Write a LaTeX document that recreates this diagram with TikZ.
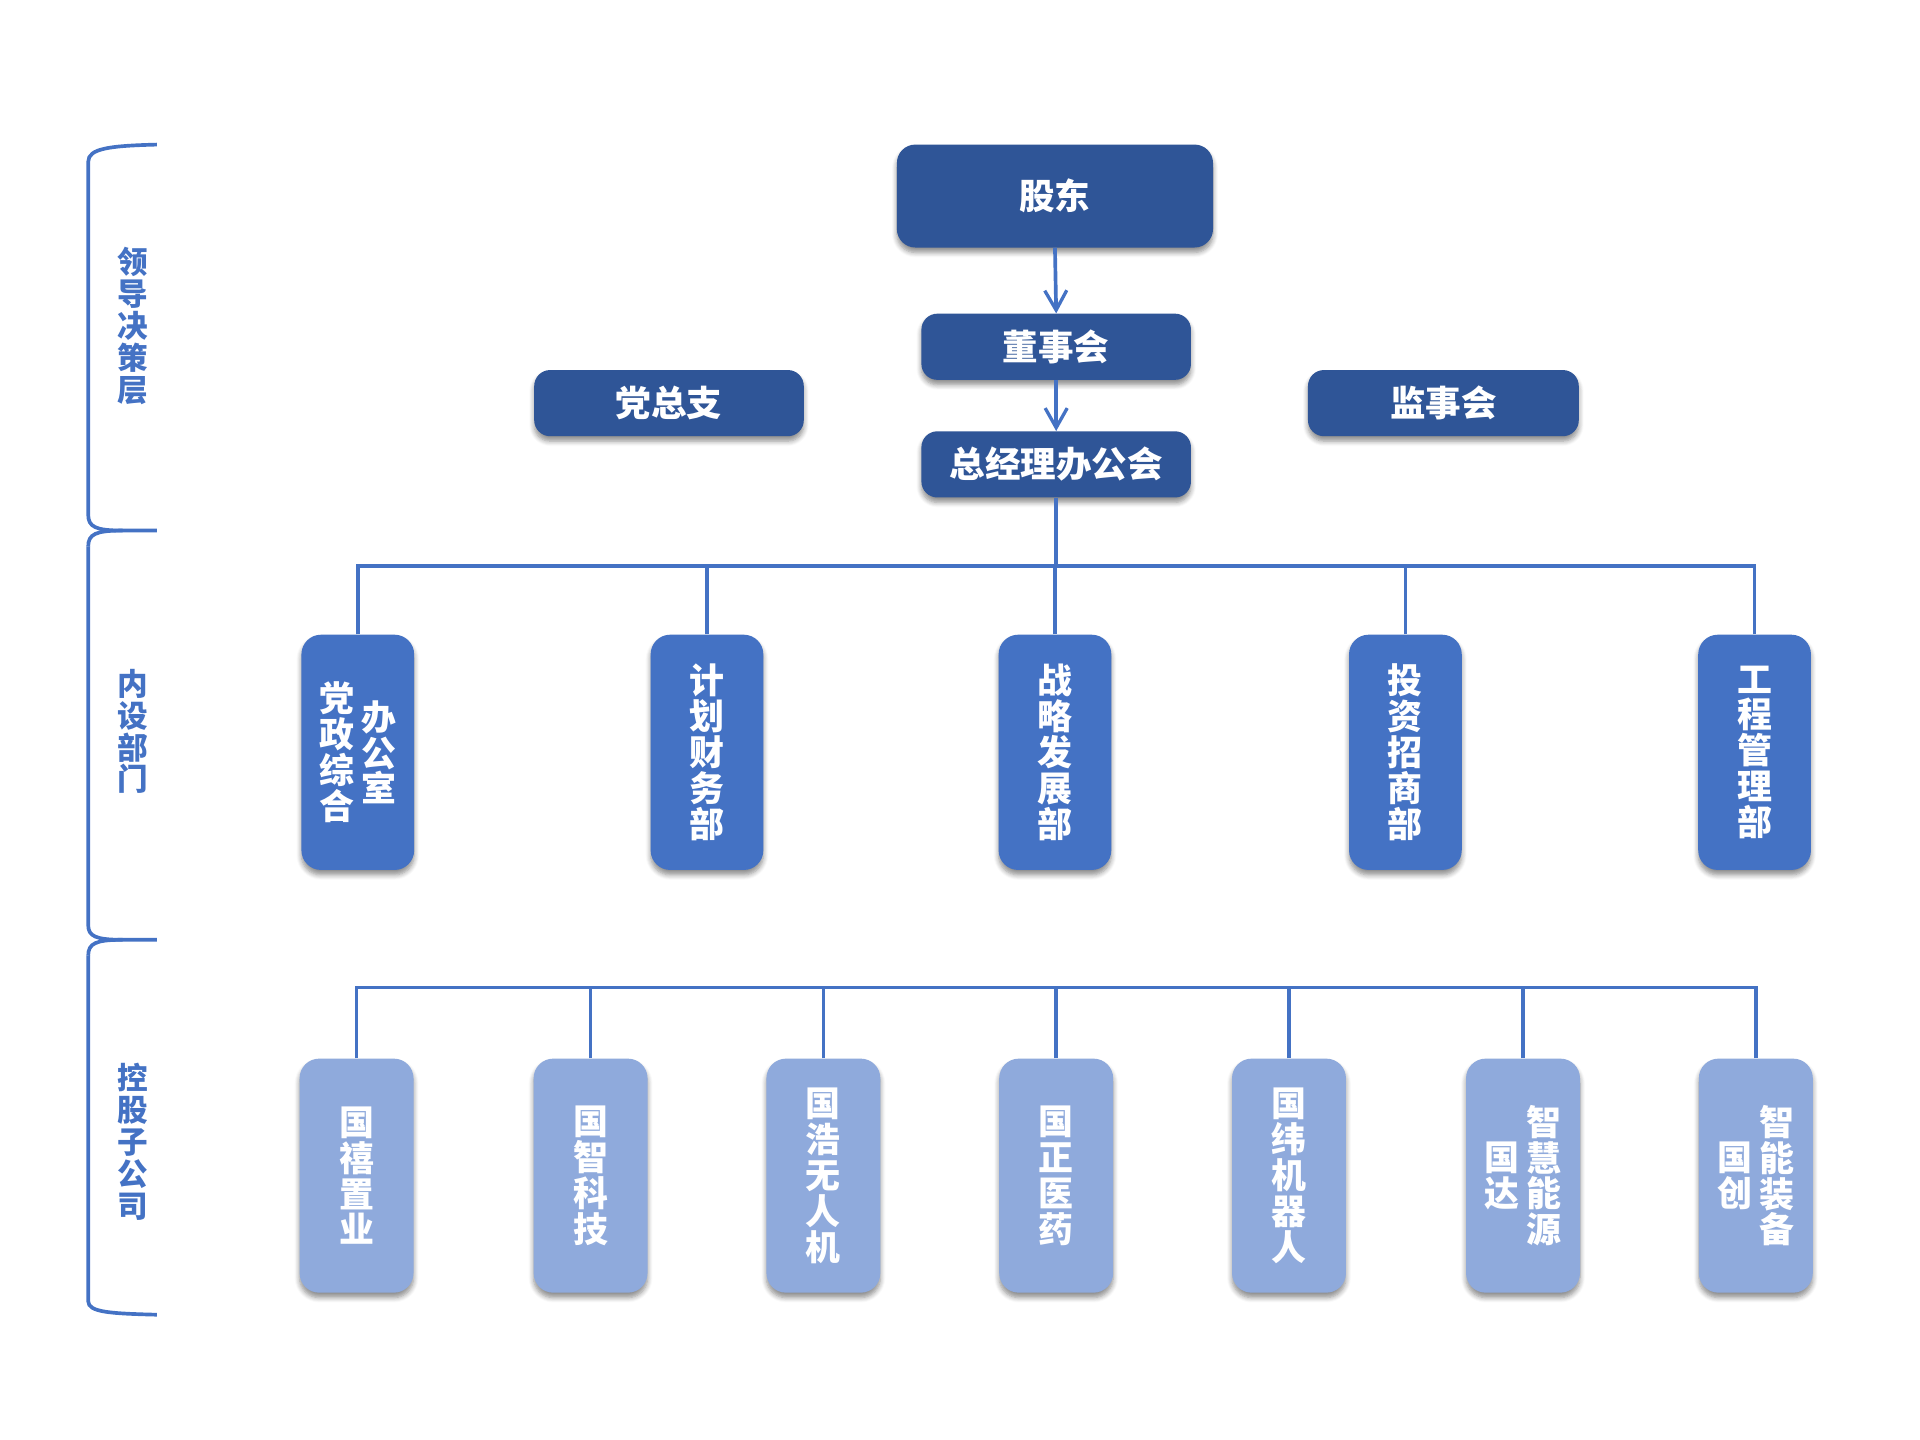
\documentclass[tikz,border=0pt]{standalone}
\usepackage{fontspec}
\newfontfamily\cjk{Noto Sans CJK SC}
\usetikzlibrary{arrows.meta,shadows.blur}
\definecolor{darkb}{HTML}{2F5597}
\definecolor{midb}{HTML}{4472C4}
\definecolor{lightb}{HTML}{8FAADC}
\newcommand\vcol[2][29.3pt]{$\vcenter{\hsize=34pt\parindent=0pt\baselineskip=#1\lineskiplimit=-100pt\lineskip=0pt\centering #2\par}$}
\begin{document}
\begin{tikzpicture}[x=1pt,y=-1pt,
  shad/.style={blur shadow={shadow xshift=0pt,shadow yshift=-4pt,shadow blur steps=6,shadow opacity=45,shadow blur radius=4pt}},
  topbox/.style={rectangle,rounded corners=13pt,fill=darkb,text=white,inner sep=0pt,
     font=\cjk\bfseries\fontsize{29}{30}\selectfont,minimum width=220pt,minimum height=54pt,shad},
  midbox/.style={rectangle,rounded corners=16pt,fill=midb,text=white,inner sep=0pt,
     font=\cjk\bfseries\fontsize{28.5}{29}\selectfont,minimum width=92pt,minimum height=192pt,shad},
  subbox/.style={rectangle,rounded corners=16pt,fill=lightb,text=white,inner sep=0pt,
     font=\cjk\bfseries\fontsize{28.5}{29}\selectfont,minimum width=93pt,minimum height=191pt,shad},
  sidelab/.style={text=midb,inner sep=0pt,font=\cjk\bfseries\fontsize{25}{26}\selectfont},
  conn/.style={draw=midb,line width=3pt},
  arr/.style={conn,-{Straight Barb[length=16pt,width=18pt,line width=2.7pt]}},
  brk/.style={draw=midb,line width=3pt}]
\useasboundingbox (0,0) rectangle (1567,1175.25);
% side brackets
\draw[brk] (128,118) .. controls (90,119) and (72,121) .. (72,132) -- (72,420)
   .. controls (72,430) and (78,433) .. (100,433) -- (128,433);
\draw[brk] (72,446) .. controls (72,436) and (78,433) .. (100,433);
\draw[brk] (72,446) -- (72,755) .. controls (72,764) and (78,767) .. (100,767) -- (128,767);
\draw[brk] (72,780) .. controls (72,770) and (78,767) .. (100,767);
\draw[brk] (72,780) -- (72,1062) .. controls (72,1071) and (90,1072) .. (128,1073);
\node[sidelab] (l1) at (108,266) {\vcol[26pt]{领\\导\\决\\策\\层}};
\node[sidelab] (l2) at (108,597) {\vcol[26pt]{内\\设\\部\\门}};
\node[sidelab] (l3) at (108,932) {\vcol[26pt]{控\\股\\子\\公\\司}};
% top
\node[topbox,minimum width=258pt,minimum height=84pt,rounded corners=15pt] (gd) at (861,160) {股东};
\node[topbox] (dsh) at (862,283) {董事会};
\node[topbox] (dzz) at (546,329) {党总支};
\node[topbox,minimum width=221pt] (jsh) at (1178,329) {监事会};
\node[topbox] (zjl) at (862,379) {总经理办公会};
\draw[arr] (gd.south) -- (dsh.north);
\draw[arr] (dsh.south) -- (zjl.north);
% departments
\node[midbox] (m1) at (292,614) {\vcol{党\\政\\综\\合}\vcol{办\\公\\室}\hspace{9pt}};
\node[midbox] (m2) at (577,614) {\vcol{计\\划\\财\\务\\部}};
\node[midbox] (m3) at (861,614) {\vcol{战\\略\\发\\展\\部}};
\node[midbox] (m4) at (1147,614) {\vcol{投\\资\\招\\商\\部}};
\node[midbox] (m5) at (1432,614) {\vcol{工\\程\\管\\理\\部}};
\coordinate (b1) at (862,462);
\draw[conn] (zjl.south) -- (b1);
\foreach \m in {m1,m2,m3,m4,m5} \draw[conn] (\m.north) |- (b1);
% subsidiaries
\node[subbox] (s1) at (291,959.5) {\vcol{国\\禧\\置\\业}};
\node[subbox] (s2) at (482,959.5) {\vcol{国\\智\\科\\技}};
\node[subbox] (s3) at (672,959.5) {\vcol{国\\浩\\无\\人\\机}};
\node[subbox] (s4) at (862,959.5) {\vcol{国\\正\\医\\药}};
\node[subbox] (s5) at (1052,959.5) {\vcol{国\\纬\\机\\器\\人}};
\node[subbox] (s6) at (1243,959.5) {\vcol{国\\达}\vcol{智\\慧\\能\\源}};
\node[subbox] (s7) at (1433,959.5) {\vcol{国\\创}\vcol{智\\能\\装\\备}};
\coordinate (b2) at (862,806);
\foreach \s in {s1,s2,s3,s4,s5,s6,s7} \draw[conn] (\s.north) |- (b2);
\end{tikzpicture}
\end{document}
